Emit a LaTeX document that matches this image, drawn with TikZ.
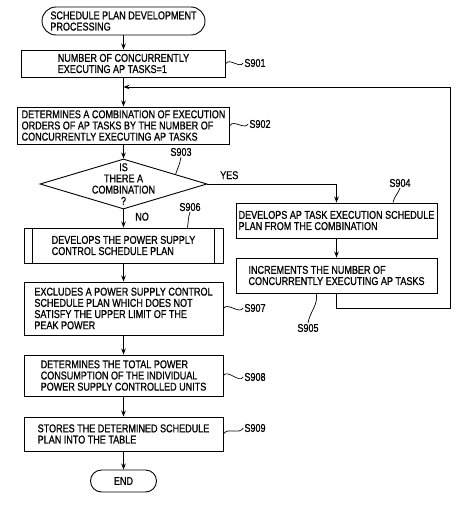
\documentclass[tikz,border=0pt]{standalone}
\usepackage{fontspec}
\setmainfont{Liberation Sans}[FakeStretch=0.8, FakeBold=0.8]
\usetikzlibrary{shapes.geometric,arrows.meta,calc}
\begin{document}
\begin{tikzpicture}[x=1pt,y=-1pt,
  txt/.style={font=\fontsize{11.3}{11.2}\selectfont},
  box/.style={draw, line width=0.9pt, align=left, inner sep=0pt, txt},
  lbl/.style={inner sep=1pt, txt},
  arr/.style={line width=0.9pt, -{Stealth[length=6pt,width=4.5pt]}},
  lead/.style={line width=0.7pt}]
\fill[white] (0,0) rectangle (474,506);
\useasboundingbox (0,0) rectangle (474,506);

% main column
\node[box, rounded corners=14pt, minimum width=163pt, minimum height=28pt] (start) at (123.5,21) {SCHEDULE PLAN DEVELOPMENT\\PROCESSING};
\node[box, minimum width=204pt, minimum height=27pt] (n901) at (123.5,63.5) {NUMBER OF CONCURRENTLY\\EXECUTING AP TASKS=1};
\node[box, minimum width=212pt, minimum height=37pt] (n902) at (123.5,125.5) {DETERMINES A COMBINATION OF EXECUTION\\ORDERS OF AP TASKS BY THE NUMBER OF\\CONCURRENTLY EXECUTING AP TASKS};
\node[draw, diamond, line width=0.9pt, minimum width=167pt, minimum height=50pt, inner sep=0pt] (d) at (123.5,184) {};
\node[txt, align=center, inner sep=0pt] (dt) at (123.5,184) {IS\\THERE A\\COMBINATION\\?};
\node[box, minimum width=199pt, minimum height=35pt] (n906) at (123.5,245.5) {DEVELOPS THE POWER SUPPLY\\CONTROL SCHEDULE PLAN};
\draw[line width=0.9pt] ([xshift=9pt]n906.north west) -- ([xshift=9pt]n906.south west);
\draw[line width=0.9pt] ([xshift=-9pt]n906.north east) -- ([xshift=-9pt]n906.south east);
\node[box, minimum width=199pt, minimum height=53pt] (n907) at (123.5,308.5) {EXCLUDES A POWER SUPPLY CONTROL\\SCHEDULE PLAN WHICH DOES NOT\\SATISFY THE UPPER LIMIT OF THE\\PEAK POWER};
\node[box, minimum width=199pt, minimum height=41pt] (n908) at (123.5,375.5) {DETERMINES THE TOTAL POWER\\CONSUMPTION OF THE INDIVIDUAL\\POWER SUPPLY CONTROLLED UNITS};
\node[box, minimum width=199pt, minimum height=34pt] (n909) at (123.5,434) {STORES THE DETERMINED SCHEDULE\\PLAN INTO THE TABLE};
\node[box, rounded corners=11pt, minimum width=66pt, minimum height=22pt, align=center] (end) at (123.5,481) {END};

% right column
\node[box, minimum width=201pt, minimum height=35pt] (n904) at (336.5,220.5) {DEVELOPS AP TASK EXECUTION SCHEDULE\\PLAN FROM THE COMBINATION};
\node[box, minimum width=201pt, minimum height=35pt] (n905) at (336.5,275.5) {INCREMENTS THE NUMBER OF\\CONCURRENTLY EXECUTING AP TASKS};

% connectors
\coordinate (join) at (123.5,87);
\coordinate (loopc) at (450,308);
\draw[arr] (start) -- (n901);
\draw[arr] (n901) -- (n902);
\draw[arr] (n902) -- (d);
\draw[arr] (d.south) -- (n906.north) node[pos=0.4, right=8pt, txt] (no) {NO};
\draw[arr] (d.east) -| (n904.north) node[pos=0.1, above=1pt, xshift=-4pt, txt] (yes) {YES};
\draw[arr] (n906) -- (n907);
\draw[arr] (n907) -- (n908);
\draw[arr] (n908) -- (n909);
\draw[arr] (n909) -- (end);
\draw[arr] (n904) -- (n905);
\draw[arr] (n905.south) |- (loopc) |- (join);

% step labels
\node[lbl] (l901) at (255,63) {S901};
\node[lbl] (l902) at (260,124) {S902};
\node[lbl] (l903) at (181,152) {S903};
\node[lbl] (l904) at (400,183) {S904};
\node[lbl] (l905) at (308,328) {S905};
\node[lbl] (l906) at (190,207) {S906};
\node[lbl] (l907) at (255,308) {S907};
\node[lbl] (l908) at (255,377) {S908};
\node[lbl] (l909) at (255,428) {S909};

\draw[lead] (n901.east) to[out=60,in=240] (l901.west);
\draw[lead] (n902.east) to[out=60,in=240] (l902.west);
\draw[lead] (n907.east) to[out=60,in=240] (l907.west);
\draw[lead] (n908.east) to[out=60,in=240] (l908.west);
\draw[lead] (n909.east) to[out=60,in=240] (l909.west);
\draw[lead] ($(d.north)!0.62!(d.east)$) to[out=70,in=-100] (l903.south);
\draw[lead] ($(n906.north west)!0.82!(n906.north east)$) to[out=80,in=-110] (l906.south);
\draw[lead] ($(n904.north west)!0.78!(n904.north east)$) to[out=80,in=-110] (l904.south);
\draw[lead] ($(n905.south west)!0.4!(n905.south east)$) to[out=-80,in=80] (l905.north);
\end{tikzpicture}
\end{document}
